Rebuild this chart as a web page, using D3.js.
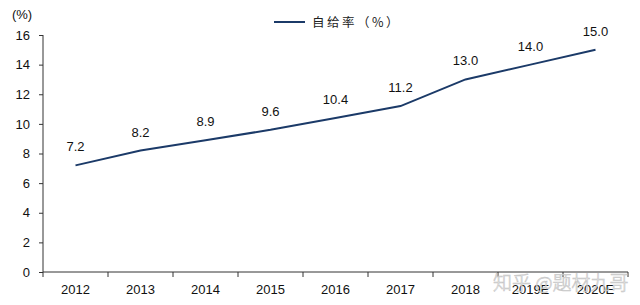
<!DOCTYPE html>
<html>
<head>
<meta charset="utf-8">
<script src="https://cdn.jsdelivr.net/npm/d3@7"></script>
<style>
  body { margin: 0; background: #fff; }
  text { font-family: "Liberation Sans", Arial, sans-serif; }
</style>
</head>
<body>
<svg id="chart" width="640" height="305"></svg>
<script>
// data
var years = ["2012", "2013", "2014", "2015", "2016", "2017", "2018", "2019E", "2020E"];
var selfRate = [7.2, 8.2, 8.9, 9.6, 10.4, 11.2, 13.0, 14.0, 15.0];
var yTicks = [0, 2, 4, 6, 8, 10, 12, 14, 16];

var svg = d3.select("#chart");
var lineColor = "#1b3a68";

var x = d3.scaleBand().domain(years).range([43, 628]);
var y = d3.scaleLinear().domain([0, 16]).range([272, 35]);

// y axis
var yAxis = svg.append("g")
    .attr("transform", "translate(43,0)")
    .call(d3.axisLeft(y).tickValues(yTicks).tickSize(4).tickPadding(9));
yAxis.select(".domain").attr("stroke", "#333").attr("d", "M0," + y(16) + "V" + y(0));
yAxis.selectAll(".tick line").attr("stroke", "#333");
yAxis.selectAll("text").attr("font-size", 13).attr("fill", "#111");

// x axis with ticks at category boundaries
var xAxis = svg.append("g")
    .attr("transform", "translate(0,272)");
xAxis.append("line")
    .attr("x1", 43).attr("x2", 628)
    .attr("stroke", "#333");
var bounds = years.map(function(d){ return x(d) }).concat([x.range()[1]]);
xAxis.selectAll("line.tk")
    .data(bounds)
    .enter()
    .append("line")
      .attr("class", "tk")
      .attr("x1", function(d){ return d }).attr("x2", function(d){ return d })
      .attr("y1", 0).attr("y2", 5)
      .attr("stroke", "#333");
xAxis.selectAll("text")
    .data(years)
    .enter()
    .append("text")
      .attr("x", function(d){ return x(d) + x.bandwidth()/2 })
      .attr("y", 22)
      .attr("text-anchor", "middle")
      .attr("font-size", 13)
      .attr("fill", "#111")
      .text(function(d){ return d });

// unit label
svg.append("text")
    .attr("x", 22).attr("y", 19)
    .attr("text-anchor", "middle")
    .attr("font-size", 13)
    .attr("fill", "#111")
    .text("(%)");

// the line
var line = d3.line()
    .x(function(d, i){ return x(years[i]) + x.bandwidth()/2 })
    .y(function(d){ return y(d) });
svg.append("path")
    .datum(selfRate)
    .attr("d", line)
    .attr("fill", "none")
    .attr("stroke", lineColor)
    .attr("stroke-width", 2);

// value labels
svg.selectAll("text.val")
    .data(selfRate)
    .enter()
    .append("text")
      .attr("class", "val")
      .attr("x", function(d, i){ return x(years[i]) + x.bandwidth()/2 })
      .attr("y", function(d){ return y(d) - 14 })
      .attr("text-anchor", "middle")
      .attr("font-size", 13)
      .attr("fill", "#111")
      .text(function(d){ return d.toFixed(1) });

// legend
svg.append("line")
    .attr("x1", 274).attr("x2", 305)
    .attr("y1", 22).attr("y2", 22)
    .attr("stroke", lineColor)
    .attr("stroke-width", 2);
svg.append("text")
    .attr("x", 312).attr("y", 27)
    .attr("font-size", 12.5)
    .attr("letter-spacing", 2.5)
    .attr("fill", "#222")
    .style("font-family", "'Noto Sans CJK SC', sans-serif")
    .text("自给率（%）");

// watermark (overlaps the last tick labels, as in the source)
svg.append("text")
    .attr("x", 493).attr("y", 290)
    .attr("font-size", 19)
    .attr("font-weight", 300)
    .attr("fill", "#fff")
    .attr("fill-opacity", 0.5)
    .attr("stroke", "#c4c4c4")
    .attr("stroke-width", 0.6)
    .style("font-family", "'Noto Sans CJK SC', sans-serif")
    .text("知乎 @题材九哥");
</script>
</body>
</html>
